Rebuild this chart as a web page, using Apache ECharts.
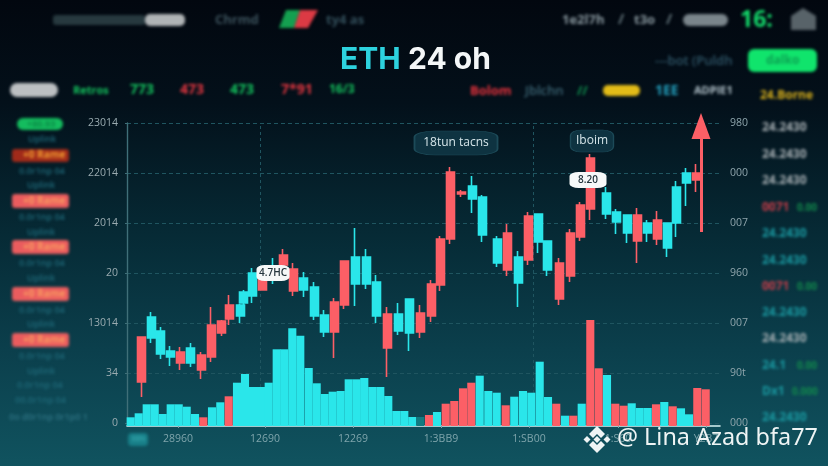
<!DOCTYPE html>
<html><head><meta charset="utf-8">
<style>html,body{margin:0;padding:0;background:#03080f}
#c,#h{position:absolute;left:0;top:0;width:828px;height:466px}
#h{filter:blur(1.5px);pointer-events:none}</style>
<script src="https://cdn.jsdelivr.net/npm/echarts@6/dist/echarts.min.js"></script>
</head><body><div id="c"></div><div id="h"></div>
<script>
// ---- data ----
const candleT = [14.7,24,33.7,43,53,63.7,74,84,94.7,102,113,116.7,125,135.7,146,156,166,176.7,187,197,207,217,228,239,249,260,271,282,293,304,313,323,334,345,355,370,380,391,401,411,420,432,443,453,463,479,489,500,510,520,530,540,549,559,569];
const candleOpen = [41,106,92,72,60,75,53,66,90,104,118,131,150,133,155,158,132,145,136,108,91,118,166,166,141,75,109,124,91,107,138,184,229,237,226,184,153,166,163,209,182,124,147,186,214,230,211,208,182,200,184,200,236,250,243];
const candleClose = [86,85,69,66,71,60,68,98,102,118,107,120,127,144,148,168,154,133,107,91,121,162,139,139,107,109,92,90,110,139,184,251,231,224,188,160,190,140,207,181,153,160,190,218,265,209,201,190,208,190,203,175,200,240,250];
const candleLow = [26,80,64,57,53,56,44,61,87,98,100,118,120,133,139,155,127,126,103,86,65,114,117,134,100,46,88,72,85,101,132,179,226,210,181,156,147,116,158,170,147,118,141,182,203,204,189,180,160,181,178,166,186,217,231];
const candleHigh = [86,111,96,77,76,80,71,116,103,128,119,133,155,144,165,174,160,151,141,113,125,162,195,174,148,116,120,124,118,143,187,256,233,247,228,187,199,172,211,209,182,165,194,221,269,236,214,208,215,203,212,200,242,255,259];
const volumeT = [3.7,11.7,19.7,27.7,35.7,43.7,51.7,59.7,68,76.3,85,93.3,101.7,110,118,126,134,141.7,149.7,157.3,165.3,173.3,181.7,189.7,197.7,205.7,213.7,221.7,229.7,237.3,245.3,253.3,261.3,269.3,277.3,285.3,293.3,302,310,318.7,327.3,336,344.3,352.7,361.3,369.7,378.7,387.3,396,404.3,412.7,421,429.3,438,446.3,454.7,463.3,471.7,480,488.3,496.7,504.7,512.7,520.7,529,537.3,545.7,554,562,570.3,578.7];
const volumeValues = [8.7,12.7,21.7,21.7,12,21.7,21.7,19.3,12,8.7,18.7,23.7,29.7,43.3,52,39,39,43.3,76.7,76.7,97.7,90.3,58,42.7,32,34.3,35,46.7,46.7,48,39,39,30,15,15,9,9,11,14,22.3,25,37.7,43.3,50.3,35,33.3,20.7,29.3,35,33.3,64.3,29,22.3,10.3,10.3,22.3,106,57.7,51,22.3,20.3,22.7,18,18,21.7,24,19.7,17.7,11.7,38,36.7];
const volumeRed = [9,12,37,39,40,41,42,46,52,54,56,57,59,60,64,66,69,70];
const leftTicks = ["0","34","13014","20","2014","22014","23014"];
const rightTicks = ["000","90t","007","960","007","000","980"];
const timeTicks = [51,138,226,314,402,491,579];
const timeLabels = ["28960","12690","12269","1:3BB9","1:SB00","1:S60","Y2B7"];
const annotations = [["4.7HC",146,150],["8.20",461,243]];
const notes = [["18tun tacns",329,280],["Iboim",465,282]];

// ---- palette ----
const RED='#fc5f66', CYAN='#2ae6ea';

// ---- decoration helpers ----
const soft_g=[], sharp_g=[]; let cur=soft_g;
function txt(s,x,y,color,size,o){o=o||{};cur.push({type:'text',silent:true,z:o.z||5,style:{text:s,x:x,y:y,fill:color,
 font:(o.weight||'700')+' '+size+'px '+(o.family||'"Open Sans",sans-serif'),textAlign:'left',textVerticalAlign:'middle'}});}
function pill(x,y,w,h,color,o){o=o||{};cur.push({type:'rect',silent:true,z:4,shape:{x:x,y:y,width:w,height:h,r:o.r==null?h/2:o.r},style:{fill:color}});}
function poly(pts,color,o){cur.push({type:'polygon',silent:true,z:(o&&o.z)||6,shape:{points:pts},style:{fill:color}});}
const soft=txt;

// top strip left
pill(53,15,92,10,'#27393f',{r:3});pill(145,14,40,12,'#b0b4b6',{r:5});
soft('Chrmd',215,20,'#3c525c',13);
poly([[286,10],[300,10],[294,28],[279,28]],'#14a050');poly([[300,10],[318,10],[308,28],[294,28]],'#dc3a44');
soft('ty4 as',326,20,'#34505c',13);
// second strip left
pill(10,83,48,14,'#bcc0c2',{r:7});
soft('Retros',73,91,'#14c45e',11);
soft('773',130,90,'#14c45e',14);
soft('473',180,90,'#e63741',14);
soft('473',230,90,'#14c45e',14);
soft('7*91',281,90,'#e63741',14);
soft('16/3',329,90,'#14c45e',12);
// top strip right
soft('1e2l7h',562,20,'#8a99a0',13);
soft('/',618,20,'#64767d',15);
soft('t3o',634,20,'#8a99a0',13);
soft('/',666,20,'#64767d',15);
pill(683,14,45,12,'#7a858b',{r:6});
soft('16:',740,20,'#14dc6c',23);
poly([[791,16],[803,8],[816,16],[816,30],[791,30]],'#586369');
soft('---bot (Puldh',655,61,'#2f5668',13,{weight:'600'});
pill(748,49,69,23,'#10e46c',{r:6});
soft('dalko',766,61,'#0ca052',12,{z:6});
soft('Bolom',470,91,'#e6323c',13);
soft('Jblchn',525,91,'#3c6473',13,{weight:'600'});
soft('//',577,91,'#0f9650',13);
pill(603,85,37,11,'#e2bc18',{r:5});
soft('1EE',655,91,'#23a0be',14);
soft('ADPIE1',694,91,'#b4c4cc',11);
soft('24.Borne',760,96,'#d8b01c',12);

// left side panel
const LT='#1f6a7a';
pill(17,118,46,12,'#14bc5e');soft('+80.93',27,124,'#0a8a46',9,{z:6});
soft('Uplink',28,139,LT,9,{weight:'600'});
pill(12,149,57,13,'#a02a1a',{r:3});soft('+0 Rame',23,155,'#f09a30',10,{z:6});
[[19,171,'0.0r1np 04'],[27,185,'Uplink'],[19,217,'0.0r1np 04'],[27,232,'Uplink'],[19,263,'0.0r1np 04'],[27,278,'Uplink'],[19,310,'0.0r1np 04'],[27,324,'Uplink'],[19,356,'0.0r1np 04'],[27,371,'Uplink'],[17,385,'0.0r1np 04'],[15,400,'00.0r1np 04']].forEach(a=>soft(a[2],a[0],a[1],LT,9,{weight:'600'}));
soft('0o d0r1np 0r1p0 1',9,417,'#2f7484',9,{weight:'600'});
[201,247,294,340].forEach(y=>{pill(12,y-7,57,14,'#ea5c5e',{r:3});soft('+0 Rame',23,y,'#f89a60',10,{z:6});});

// right side panel
const GY='#a8b0b4',TL='#1a9aa2',RD='#c83c48',GN='#128a4c';
[[128,GY],[155,GY],[181,GY],[234,TL],[261,TL],[313,TL],[339,GY],[418,TL]].forEach(a=>soft('24.2430',762,a[0],a[1],12,{}));
[208,287].forEach(y=>{soft('0071',762,y,RD,12);soft('0.00',797,y,GN,10);});
soft('24.1',762,366,TL,12);soft('0.00',797,366,GN,10);
soft('Dx1',762,392,TL,12);soft('0.000',792,392,GN,10);

// bottom-left badge
pill(128,433,20,13,'#187f88',{r:4});txt('EEN',132,439,'#44bcc0',7,{weight:'400'});

// sharp overlays: title and watermark
cur=sharp_g;
txt('ETH',340,60,'#2dd2de',30,{family:'Inter,sans-serif',weight:'700'});
txt('24 oh',408,60,'#f4f7f8',30,{family:'Inter,sans-serif',weight:'700'});
const wm='#eef4f4';
poly([[597,426],[605,434],[601,438],[597,434],[593,438],[589,434]],wm);
poly([[597,453],[605,445],[601,441],[597,445],[593,441],[589,445]],wm);
poly([[597,436],[600.5,439.5],[597,443],[593.5,439.5]],wm);
poly([[587,436],[590.5,439.5],[587,443],[583.5,439.5]],wm);
poly([[607,436],[610.5,439.5],[607,443],[603.5,439.5]],wm);
txt('@ Lina Azad bfa77',617,438,wm,23.4,{z:7,weight:'400',family:'"Noto Sans",sans-serif'});

// ---- chart ----
const candleData = candleT.map((t,i)=>[t,candleOpen[i],candleClose[i],candleLow[i],candleHigh[i]]);
const volColor = i => i===36 ? '#127a80' : (volumeRed.includes(i) ? RED : CYAN);
const volumeData = volumeT.map((t,i)=>({value:[t,volumeValues[i]],itemStyle:{color:volColor(i)}}));

const chart = echarts.init(document.getElementById('c'),null,{renderer:'canvas'});
chart.setOption({
 animation:false,
 backgroundColor:{type:'linear',x:0,y:0,x2:0,y2:1,colorStops:[
  {offset:0,color:'#02070f'},{offset:.22,color:'#03101a'},{offset:.5,color:'#062a35'},{offset:.75,color:'#0b3f4c'},{offset:1,color:'#10535f'}]},
 graphic:sharp_g,
 grid:[{left:127,top:123,width:593,height:300},{left:127,top:301,width:593,height:125}],
 xAxis:[
  {type:'value',gridIndex:0,min:0,max:593,show:false},
  {type:'value',gridIndex:1,min:0,max:593,splitLine:{show:false},
   axisLine:{show:true,onZero:false,lineStyle:{color:'#d8f2f2',width:1.6}},
   axisTick:{show:true,customValues:timeTicks,length:2,lineStyle:{color:'#7aa0a8'}},
   axisLabel:{customValues:timeTicks,margin:8,color:'#7fa5ac',fontSize:10.5,fontFamily:'"Open Sans",sans-serif',
    formatter:v=>timeLabels[timeTicks.indexOf(v)]||''}}
 ],
 yAxis:[
  {type:'value',gridIndex:0,min:0,max:300,interval:50,
   axisLine:{show:true,lineStyle:{color:'#3f6f78',width:1.4}},axisTick:{show:true,length:2,lineStyle:{color:'#3f6f78'}},
   axisLabel:{margin:9,color:'#9aabb0',fontSize:10.5,fontFamily:'"Open Sans",sans-serif',formatter:v=>leftTicks[v/50]},
   splitLine:{show:true,lineStyle:{color:'#1f5560',type:[4,3],width:1}}},
  {type:'value',gridIndex:0,position:'right',min:0,max:300,interval:50,
   axisLine:{show:false},axisTick:{show:false},splitLine:{show:false},
   axisLabel:{margin:10,color:'#8fa5ac',fontSize:10.5,fontFamily:'"Open Sans",sans-serif',formatter:v=>rightTicks[v/50]}},
  {type:'value',gridIndex:1,min:0,max:125,show:false}
 ],
 series:[
  {type:'bar',name:'Volume',xAxisIndex:1,yAxisIndex:2,data:volumeData,barWidth:8.1,z:2},
  {type:'candlestick',name:'ETH',xAxisIndex:0,yAxisIndex:0,data:candleData,barWidth:8.5,z:3,clip:false,
   itemStyle:{color:RED,color0:CYAN,borderColor:RED,borderColor0:CYAN,borderWidth:1.6},
   markLine:{silent:true,animation:false,symbol:'none',label:{show:false},z:1,precision:4,data:[
     [{coord:[133,0],lineStyle:{color:'#1f5560',type:[3,3],width:1}},{coord:[133,300]}],
     [{coord:[406,0],lineStyle:{color:'#1f5560',type:[3,3],width:1}},{coord:[406,300]}]
   ]},
   markPoint:{silent:true,animation:false,z:6,data:
     annotations.map(a=>({coord:[a[1],a[2]],symbol:'roundRect',symbolSize:[a[0].length>4?33:37,16],itemStyle:{color:'#f6f8f8'},
       label:{show:true,position:'inside',formatter:a[0],color:'#24343c',fontSize:10,fontWeight:600,fontFamily:'"Open Sans",sans-serif'}}))
     .concat(notes.map(a=>({coord:[a[1],a[2]],symbol:'roundRect',symbolSize:[a[0].length>6?83:43,a[0].length>6?24:22],
       itemStyle:{color:'#0e3341',borderColor:'#1c4a58',borderWidth:1},
       label:{show:true,position:'inside',formatter:a[0],color:'#d6e6ea',fontSize:12,fontFamily:'"Open Sans",sans-serif'}})))
   }},
  {type:'line',name:'Arrow',xAxisIndex:0,yAxisIndex:0,data:[],z:4,
   markLine:{silent:true,animation:false,label:{show:false},z:4,symbol:['none','triangle'],symbolSize:[19,26],
    data:[[{coord:[574,191],lineStyle:{color:RED,width:3,type:'solid'}},{coord:[574,297]}]]}}
 ]
});
const hud = echarts.init(document.getElementById('h'),null,{renderer:'canvas'});
hud.setOption({animation:false,backgroundColor:'transparent',graphic:soft_g});
</script></body></html>
